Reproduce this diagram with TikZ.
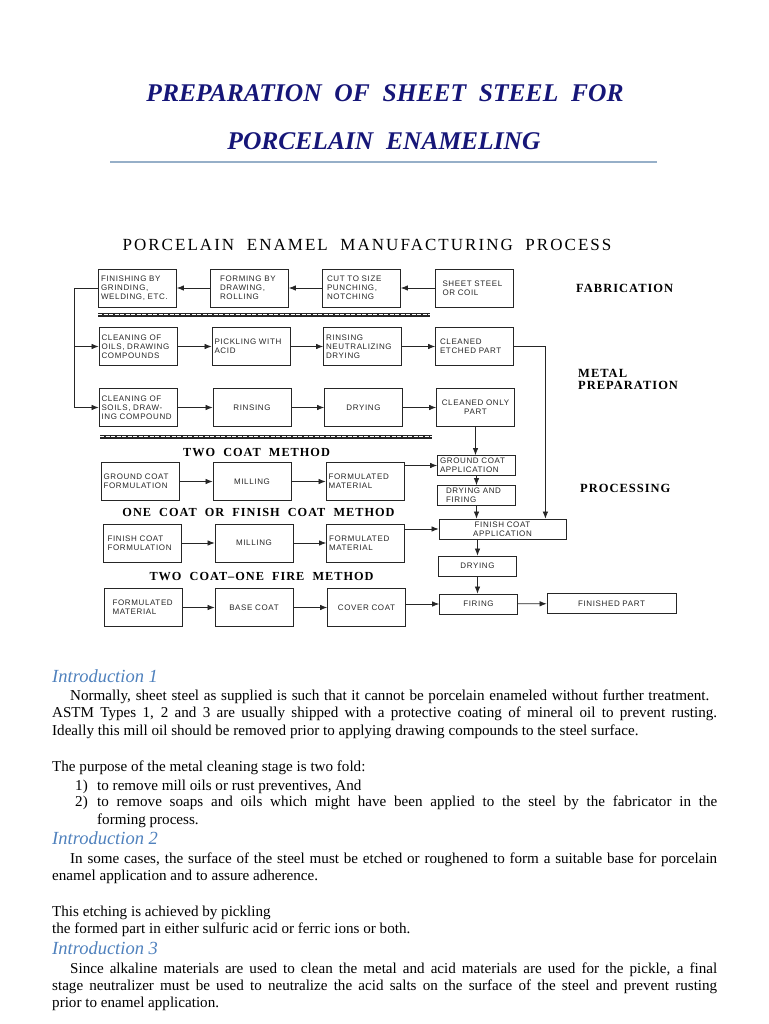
\documentclass[tikz,border=0pt]{standalone}
\usepackage{fontspec}
\setmainfont{Liberation Serif}
\newfontfamily\boxfont[LetterSpace=8]{Liberation Sans}
\newfontfamily\plaquefont[LetterSpace=8]{Liberation Serif}
\newfontfamily\headfont[LetterSpace=12]{Liberation Serif}
\usetikzlibrary{arrows.meta,positioning,calc}
\definecolor{titleblue}{RGB}{22,22,120}
\definecolor{ruleblue}{RGB}{150,175,200}
\definecolor{headblue}{RGB}{79,129,189}
\definecolor{boxgray}{gray}{0.15}
\newcommand\justline[2]{\makebox[#1][s]{#2}}
\tikzset{
	>={Latex[length=7pt,width=5.5pt]},
	stage/.style = {
			draw=boxgray,
			line width=0.8pt,
			text width=73pt,
			inner xsep=2.5pt,
			inner ysep=0pt,
			minimum height=38pt,
			align=left,
			font=\boxfont\fontsize{8}{8.8}\selectfont,
			text=boxgray,
		},
	flat/.style = {stage, minimum height=20pt},
	flow/.style = {draw=boxgray, line width=0.75pt, ->},
	hatchrule/.style = {line width=4pt, boxgray},
	hatchgap/.style = {line width=1pt, white, dash pattern=on 4pt off 1.5pt},
	sidelbl/.style = {anchor=base west, inner sep=0pt,
			font=\plaquefont\bfseries\fontsize{12.5}{13}\selectfont},
	methodlbl/.style = {anchor=base, inner sep=0pt,
			font=\plaquefont\bfseries\fontsize{12.3}{13}\selectfont},
	para/.style = {anchor=base west, inner sep=0pt,
			font=\fontsize{15.1}{18}\selectfont},
	intro/.style = {anchor=base west, inner sep=0pt, text=headblue,
			font=\itshape\fontsize{18.5}{21}\selectfont},
	titletext/.style = {anchor=base, text=titleblue,
			font=\bfseries\itshape\fontsize{25.5}{28}\selectfont},
}

\begin{document}
\begin{tikzpicture}[x=1pt, y=-1pt]
	\useasboundingbox (0,0) rectangle (768,1024);

	% title
	\node[titletext] (title1) at (385,102) {PREPARATION\ \ OF\ \ SHEET\ \ STEEL\ \ FOR};
	\node[titletext] (title2) at (384,150) {PORCELAIN\ \ ENAMELING};
	\draw[ruleblue, line width=1.5pt] (110,162) -- (657,162);

	% diagram heading
	\node[anchor=base, inner sep=0pt, font=\headfont\fontsize{17}{19}\selectfont]
		(head) at (367,251) {PORCELAIN\ \ ENAMEL\ \ MANUFACTURING\ \ PROCESS};

	% fabrication
	\node[stage] (fin)   at (137.5,288) {FINISHING BY\\GRINDING,\\WELDING, ETC.};
	\node[stage] (form)  at (249.5,288) {\hspace*{7pt}FORMING BY\\\hspace*{7pt}DRAWING,\\\hspace*{7pt}ROLLING};
	\node[stage] (cut)   at (361.5,288) {\hspace*{2pt}CUT TO SIZE\\\hspace*{2pt}PUNCHING,\\\hspace*{2pt}NOTCHING};
	\node[stage] (sheet) at (474,288)   {\hspace*{5pt}SHEET STEEL\\\hspace*{5pt}OR COIL};

	\draw[hatchrule] (98,314.5) -- (430,314.5);
	\draw[hatchgap] (98,314.5) -- (430,314.5);

	% metal preparation
	\node[stage] (oils)   at (138,346.5)   {CLEANING OF\\OILS, DRAWING\\COMPOUNDS};
	\node[stage] (pick)   at (251,346.5)   {PICKLING WITH\\ACID};
	\node[stage] (neut)   at (362.5,346.5) {RINSING\\NEUTRALIZING\\DRYING};
	\node[stage] (etched) at (474.5,346.5) {\hspace*{2pt}CLEANED\\\hspace*{2pt}ETCHED PART};

	\node[stage] (soils) at (138,407.5)   {CLEANING OF\\SOILS, DRAW-\\ING COMPOUND};
	\node[stage, align=center] (rinse) at (252,407.5)   {RINSING};
	\node[stage, align=center] (dry1)  at (363.5,407.5) {DRYING};
	\node[stage, align=center] (only)  at (475.5,407)   {CLEANED ONLY\\PART};

	\draw[hatchrule] (100,436.5) -- (432,436.5);
	\draw[hatchgap] (100,436.5) -- (432,436.5);

	% processing
	\node[methodlbl] (twocoat) at (256.5,456) {TWO\ \ COAT\ \ METHOD};
	\node[stage] (gcf)   at (140,481.5) {GROUND COAT\\FORMULATION};
	\node[stage, align=center] (mill1) at (252,481.5) {MILLING};
	\node[stage] (fmat1) at (365,481.5) {FORMULATED\\MATERIAL};

	\node[methodlbl] (onecoat) at (258.5,516.5) {ONE\ \ COAT\ \ OR\ \ FINISH\ \ COAT\ \ METHOD};
	\node[stage] (fcf)   at (142,543)   {\hspace*{2pt}FINISH COAT\\\hspace*{2pt}FORMULATION};
	\node[stage, align=center] (mill2) at (254,543) {MILLING};
	\node[stage] (fmat2) at (365.5,543) {FORMULATED\\MATERIAL};

	\node[methodlbl] (onefire) at (261.5,580) {TWO\ \ COAT–ONE\ \ FIRE\ \ METHOD};
	\node[stage] (fmat3) at (143,607.5) {\hspace*{6pt}FORMULATED\\\hspace*{6pt}MATERIAL};
	\node[stage, align=center] (base)  at (254,607.5)   {BASE COAT};
	\node[stage, align=center] (cover) at (366.5,607.5) {COVER COAT};

	\node[flat] (gca) at (476.5,465.5) {GROUND COAT\\APPLICATION};
	\node[flat] (dnf) at (476.5,495.5) {\hspace*{6pt}DRYING AND\\\hspace*{6pt}FIRING};
	\node[flat, text width=122pt, align=center] (fca) at (502.5,529) {FINISH COAT\\APPLICATION};
	\node[flat, align=center] (dry2) at (477.5,566) {DRYING};
	\node[flat, align=center] (fire) at (478.5,604) {FIRING};
	\node[flat, text width=124pt, align=center] (done) at (611.5,603.5) {FINISHED PART};

	% stage names
	\node[sidelbl] (fab)   at (576,292) {FABRICATION};
	\node[sidelbl] (metal) at (578,377) {METAL};
	\node[sidelbl] (prep)  at (578,389) {PREPARATION};
	\node[sidelbl] (proc)  at (580,492) {PROCESSING};

	% connectors
	\draw[flow] (sheet) -- (cut);
	\draw[flow] (cut) -- (form);
	\draw[flow] (form) -- (fin);
	\draw[flow] (fin.west) -- ++(-24,0) |- (oils);
	\draw[flow] (fin.west) -- ++(-24,0) |- (soils);
	\draw[flow] (oils) -- (pick);
	\draw[flow] (pick) -- (neut);
	\draw[flow] (neut) -- (etched);
	\draw[flow] (soils) -- (rinse);
	\draw[flow] (rinse) -- (dry1);
	\draw[flow] (dry1.east) -- (dry1.east -| only.west);
	\draw[flow] (etched) -| ([xshift=-21pt]fca.north east);
	\draw[flow] (only.south) -- (only.south |- gca.north);
	\draw[flow] (gca) -- (dnf);
	\draw[flow] (dnf.south) -- (dnf.south |- fca.north);
	\draw[flow] (dry2.north |- fca.south) -- (dry2.north);
	\draw[flow] (dry2.south) -- (dry2.south |- fire.north);
	\draw[flow] (fire) -- (done);
	\draw[flow] (gcf) -- (mill1);
	\draw[flow] (mill1) -- (fmat1);
	\draw[flow] (gca.west -| fmat1.east) -- (gca.west);
	\draw[flow] (fcf) -- (mill2);
	\draw[flow] (mill2) -- (fmat2);
	\draw[flow] (fca.west -| fmat2.east) -- (fca.west);
	\draw[flow] (fmat3) -- (base);
	\draw[flow] (base) -- (cover);
	\draw[flow] (fire.west -| cover.east) -- (fire.west);

	% text
	\node[intro] (intro1) at (52,682) {Introduction 1};
	\node[para] (p1a) at (70,700) {\justline{639pt}{Normally, sheet steel as supplied is such that it cannot be porcelain enameled without further treatment.}};
	\node[para] (p1b) at (52,717) {\justline{665pt}{ASTM Types 1, 2 and 3 are usually shipped with a protective coating of mineral oil to prevent rusting.}};
	\node[para] (p1c) at (52,735) {Ideally this mill oil should be removed prior to applying drawing compounds to the steel surface.};
	\node[para] (p2a) at (52,771) {The purpose of the metal cleaning stage is two fold:};
	\node[para] (n1)  at (75,790) {1)};
	\node[para] (p2b) at (97,790) {to remove mill oils or rust preventives, And};
	\node[para] (n2)  at (75,806) {2)};
	\node[para] (p2c) at (97,806) {\justline{620pt}{to remove soaps and oils which might have been applied to the steel by the fabricator in the}};
	\node[para] (p2d) at (97,824) {forming process.};
	\node[intro] (intro2) at (52,844) {Introduction 2};
	\node[para] (p3a) at (70,863) {\justline{647pt}{In some cases, the surface of the steel must be etched or roughened to form a suitable base for porcelain}};
	\node[para] (p3b) at (52,880) {enamel application and to assure adherence.};
	\node[para] (p4a) at (52,916) {This etching is achieved by pickling};
	\node[para] (p4b) at (52,933) {the formed part in either sulfuric acid or ferric ions or both.};
	\node[intro] (intro3) at (52,954) {Introduction 3};
	\node[para] (p5a) at (70,973) {\justline{647pt}{Since alkaline materials are used to clean the metal and acid materials are used for the pickle, a final}};
	\node[para] (p5b) at (52,990) {\justline{665pt}{stage neutralizer must be used to neutralize the acid salts on the surface of the steel and prevent rusting}};
	\node[para] (p5c) at (52,1007) {prior to enamel application.};
\end{tikzpicture}
\end{document}
